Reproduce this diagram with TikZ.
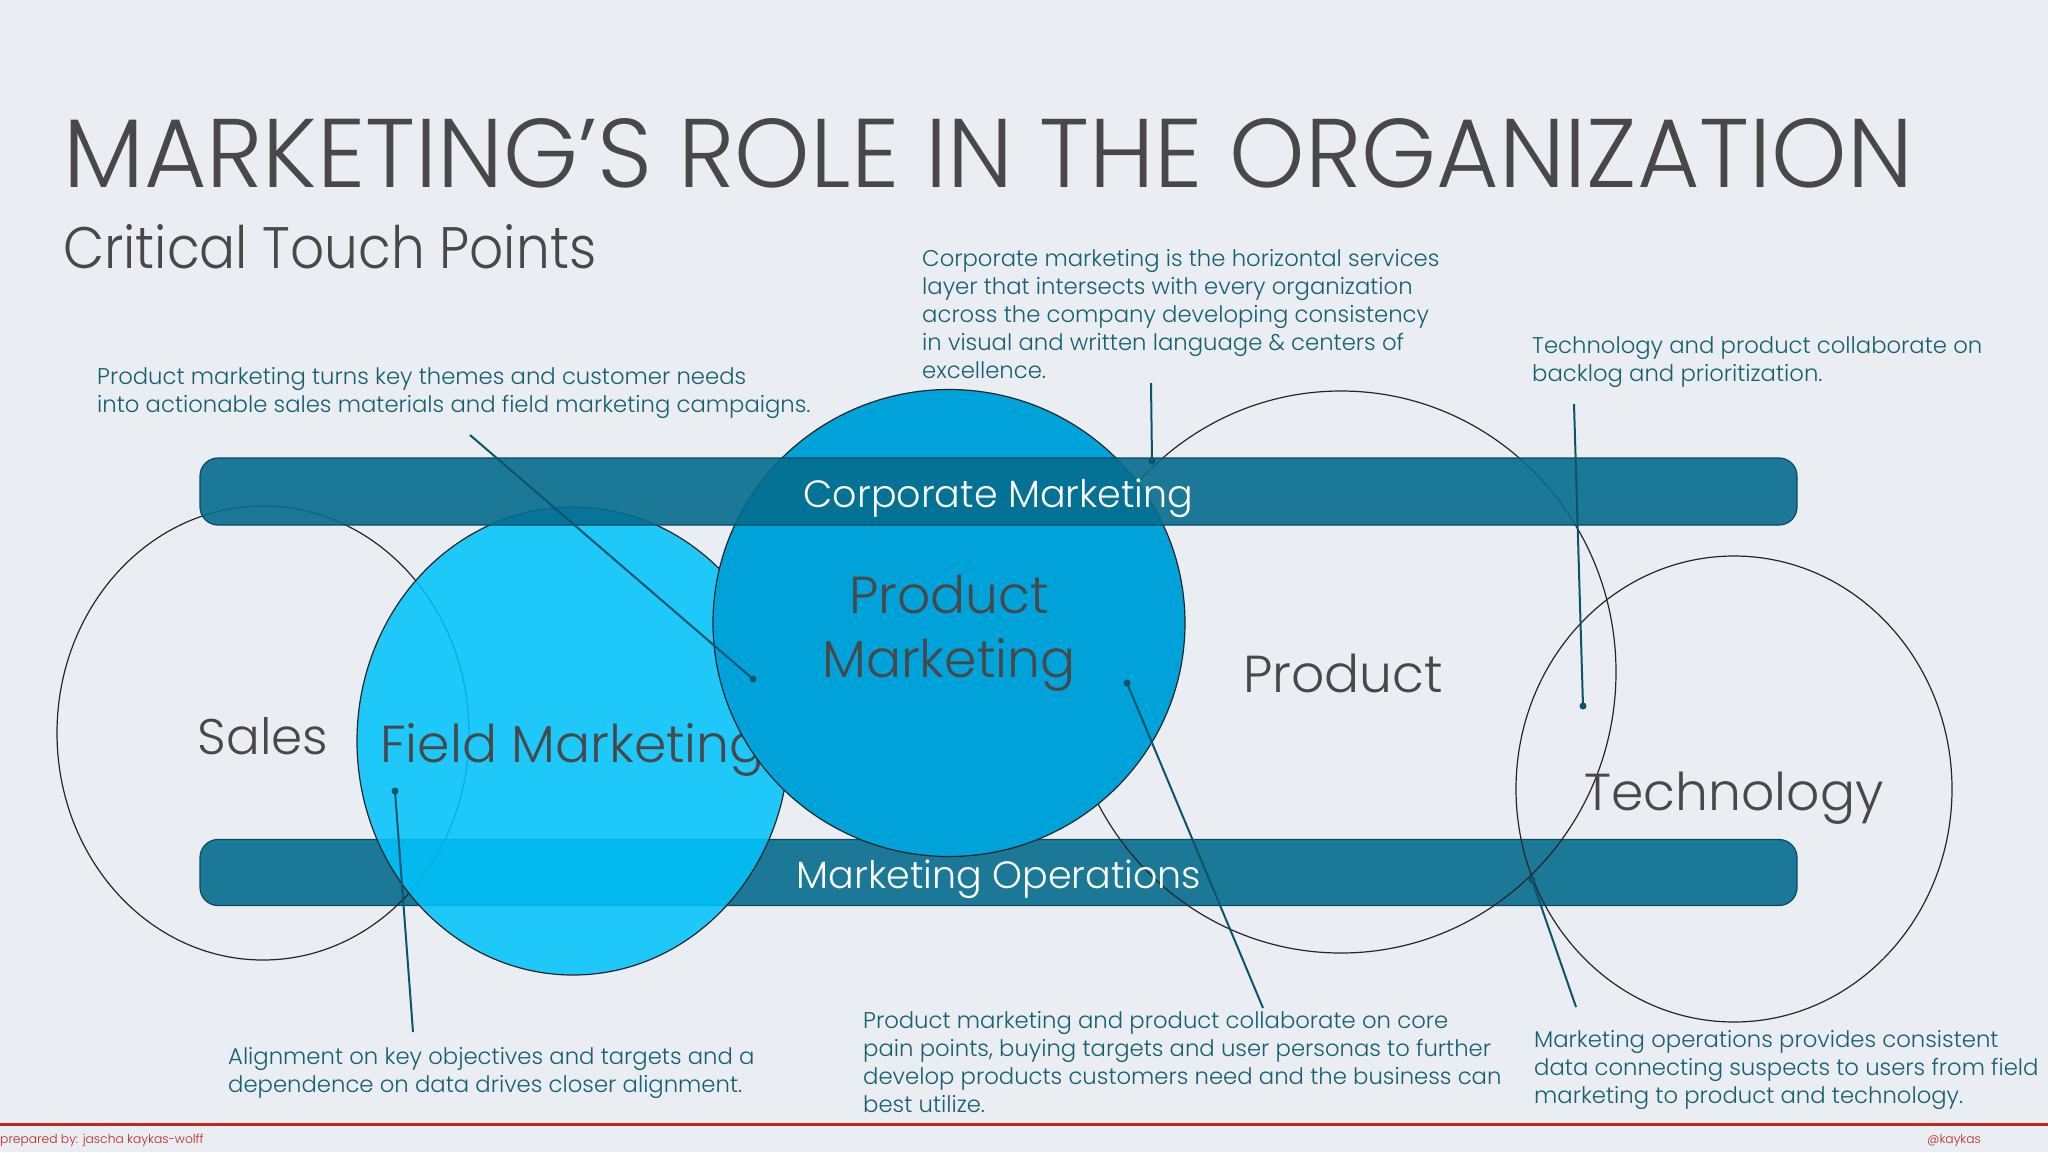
\documentclass[tikz,border=0pt]{standalone}
\usepackage{fontspec}
\setmainfont{Poppins}[UprightFont=* Light]
\usetikzlibrary{shapes.geometric}
\definecolor{bg}{RGB}{234,237,241}
\definecolor{bandcol}{RGB}{5,109,142}
\definecolor{bandline}{RGB}{10,75,100}
\definecolor{fmcol}{RGB}{0,195,251}
\definecolor{pmcol}{RGB}{0,163,217}
\definecolor{txtgray}{RGB}{72,72,74}
\definecolor{annot}{RGB}{22,96,112}
\definecolor{conncol}{RGB}{12,84,108}
\definecolor{footcol}{RGB}{192,38,30}
\begin{document}
\begin{tikzpicture}[x=1pt,y=-1pt,
  bandbox/.style={fill=bandcol,fill opacity=0.9,draw=bandline,line width=1.2pt,rounded corners=18pt,inner sep=0pt},
  outline/.style={ellipse,draw=black!85,line width=1.2pt,inner sep=0pt},
  lbl/.style={text=txtgray,inner sep=0pt,anchor=base,font=\fontsize{52}{62}\selectfont},
  bandlbl/.style={text=white,inner sep=0pt,anchor=base,font=\fontsize{38}{46}\selectfont},
  note/.style={text=annot,inner sep=0pt,anchor=base west,font=\fontsize{22.75}{28}\selectfont},
  connline/.style={draw=conncol,line width=2pt},
  foot/.style={text=footcol,inner sep=0pt,anchor=base west,font=\fontsize{12.3}{13}\selectfont}
]
\useasboundingbox (0,0) rectangle (2048,1152);
\fill[bg] (0,0) rectangle (2048,1152);

% title
\node[anchor=base west,inner sep=0pt,text=txtgray] (title) at (63,187)
  {\resizebox{1850pt}{69pt}{\fontsize{90}{90}\selectfont MARKETING’S ROLE IN THE ORGANIZATION}};
\node[anchor=base west,inner sep=0pt,text=txtgray] (subtitle) at (63,268)
  {\resizebox{533pt}{44pt}{\fontsize{60}{60}\selectfont Critical Touch Points}};

% bottom band
\node[bandbox,minimum width=1597pt,minimum height=66pt] (mops) at (998.5,872.5) {};

% outline circles
\node[outline,minimum width=412pt,minimum height=454pt] (sales) at (263,733) {};
\node[outline,minimum width=550pt,minimum height=562pt] (product) at (1341,672) {};
\node[outline,minimum width=436pt,minimum height=466pt] (tech) at (1734,789) {};

% field marketing
\node[ellipse,fill=fmcol,fill opacity=0.87,draw=black!85,line width=1.2pt,inner sep=0pt,
  minimum width=432pt,minimum height=468pt] (fm) at (573,741) {};
\node[lbl,anchor=base west] (fmlbl) at (380,762) {Field Marketing};

% product marketing
\node[ellipse,fill=pmcol,draw=black!85,line width=1.2pt,inner sep=0pt,
  minimum width=472pt,minimum height=467pt] (pm) at (949,623) {};

% top band
\node[bandbox,minimum width=1597pt,minimum height=67pt] (corp) at (998.5,491.5) {};

% labels
\node[bandlbl] (corplbl) at (998.5,507) {Corporate Marketing};
\node[bandlbl] (mopslbl) at (999,888) {Marketing Operations};
\node[lbl,font=\fontsize{50}{60}\selectfont] (saleslbl) at (263,754) {Sales};
\node[lbl] (pmlbl1) at (949,613) {Product};
\node[lbl] (pmlbl2) at (949,677) {Marketing};
\node[lbl] (prodlbl) at (1343,692) {Product};
\node[lbl] (techlbl) at (1734,810) {Technology};

% annotations
\node[note] (n1) at (97,384) {\vtop{\hbox{Product marketing turns key themes and customer needs}\hbox{into actionable sales materials and field marketing campaigns.}}};
\node[note] (n2) at (922,266) {\vtop{\hbox{Corporate marketing is the horizontal services}\hbox{layer that intersects with every organization}\hbox{across the company developing consistency}\hbox{in visual and written language \& centers of}\hbox{excellence.}}};
\node[note] (n3) at (1532,353) {\vtop{\hbox{Technology and product collaborate on}\hbox{backlog and prioritization.}}};
\node[note] (n4) at (228,1064) {\vtop{\hbox{Alignment on key objectives and targets and a}\hbox{dependence on data drives closer alignment.}}};
\node[note] (n5) at (863,1028) {\vtop{\hbox{Product marketing and product collaborate on core}\hbox{pain points, buying targets and user personas to further}\hbox{develop products customers need and the business can}\hbox{best utilize.}}};
\node[note] (n6) at (1534,1047) {\vtop{\hbox{Marketing operations provides consistent}\hbox{data connecting suspects to users from field}\hbox{marketing to product and technology.}}};

% connectors
\coordinate (c1a) at (470,435); \coordinate (c1b) at (753,679);
\coordinate (c2a) at (1151,383); \coordinate (c2b) at (1152,461);
\coordinate (c3a) at (1574,404); \coordinate (c3b) at (1583,706);
\coordinate (c4a) at (413,1032); \coordinate (c4b) at (395,791);
\coordinate (c5a) at (1263,1008); \coordinate (c5b) at (1127,683);
\coordinate (c6a) at (1576,1007); \coordinate (c6b) at (1532,880);
\foreach \a/\b in {c1a/c1b,c2a/c2b,c3a/c3b,c4a/c4b,c5a/c5b,c6a/c6b}{
  \draw[connline] (\a) -- (\b);
  \fill[conncol] (\b) circle (3.5pt);
}

% footer
\draw[footcol,line width=3pt] (0,1124) -- (2048,1124);
\node[foot] (prep) at (0,1143) {prepared by: jascha kaykas-wolff};
\node[foot] (handle) at (1927,1143) {@kaykas};
\end{tikzpicture}
\end{document}
